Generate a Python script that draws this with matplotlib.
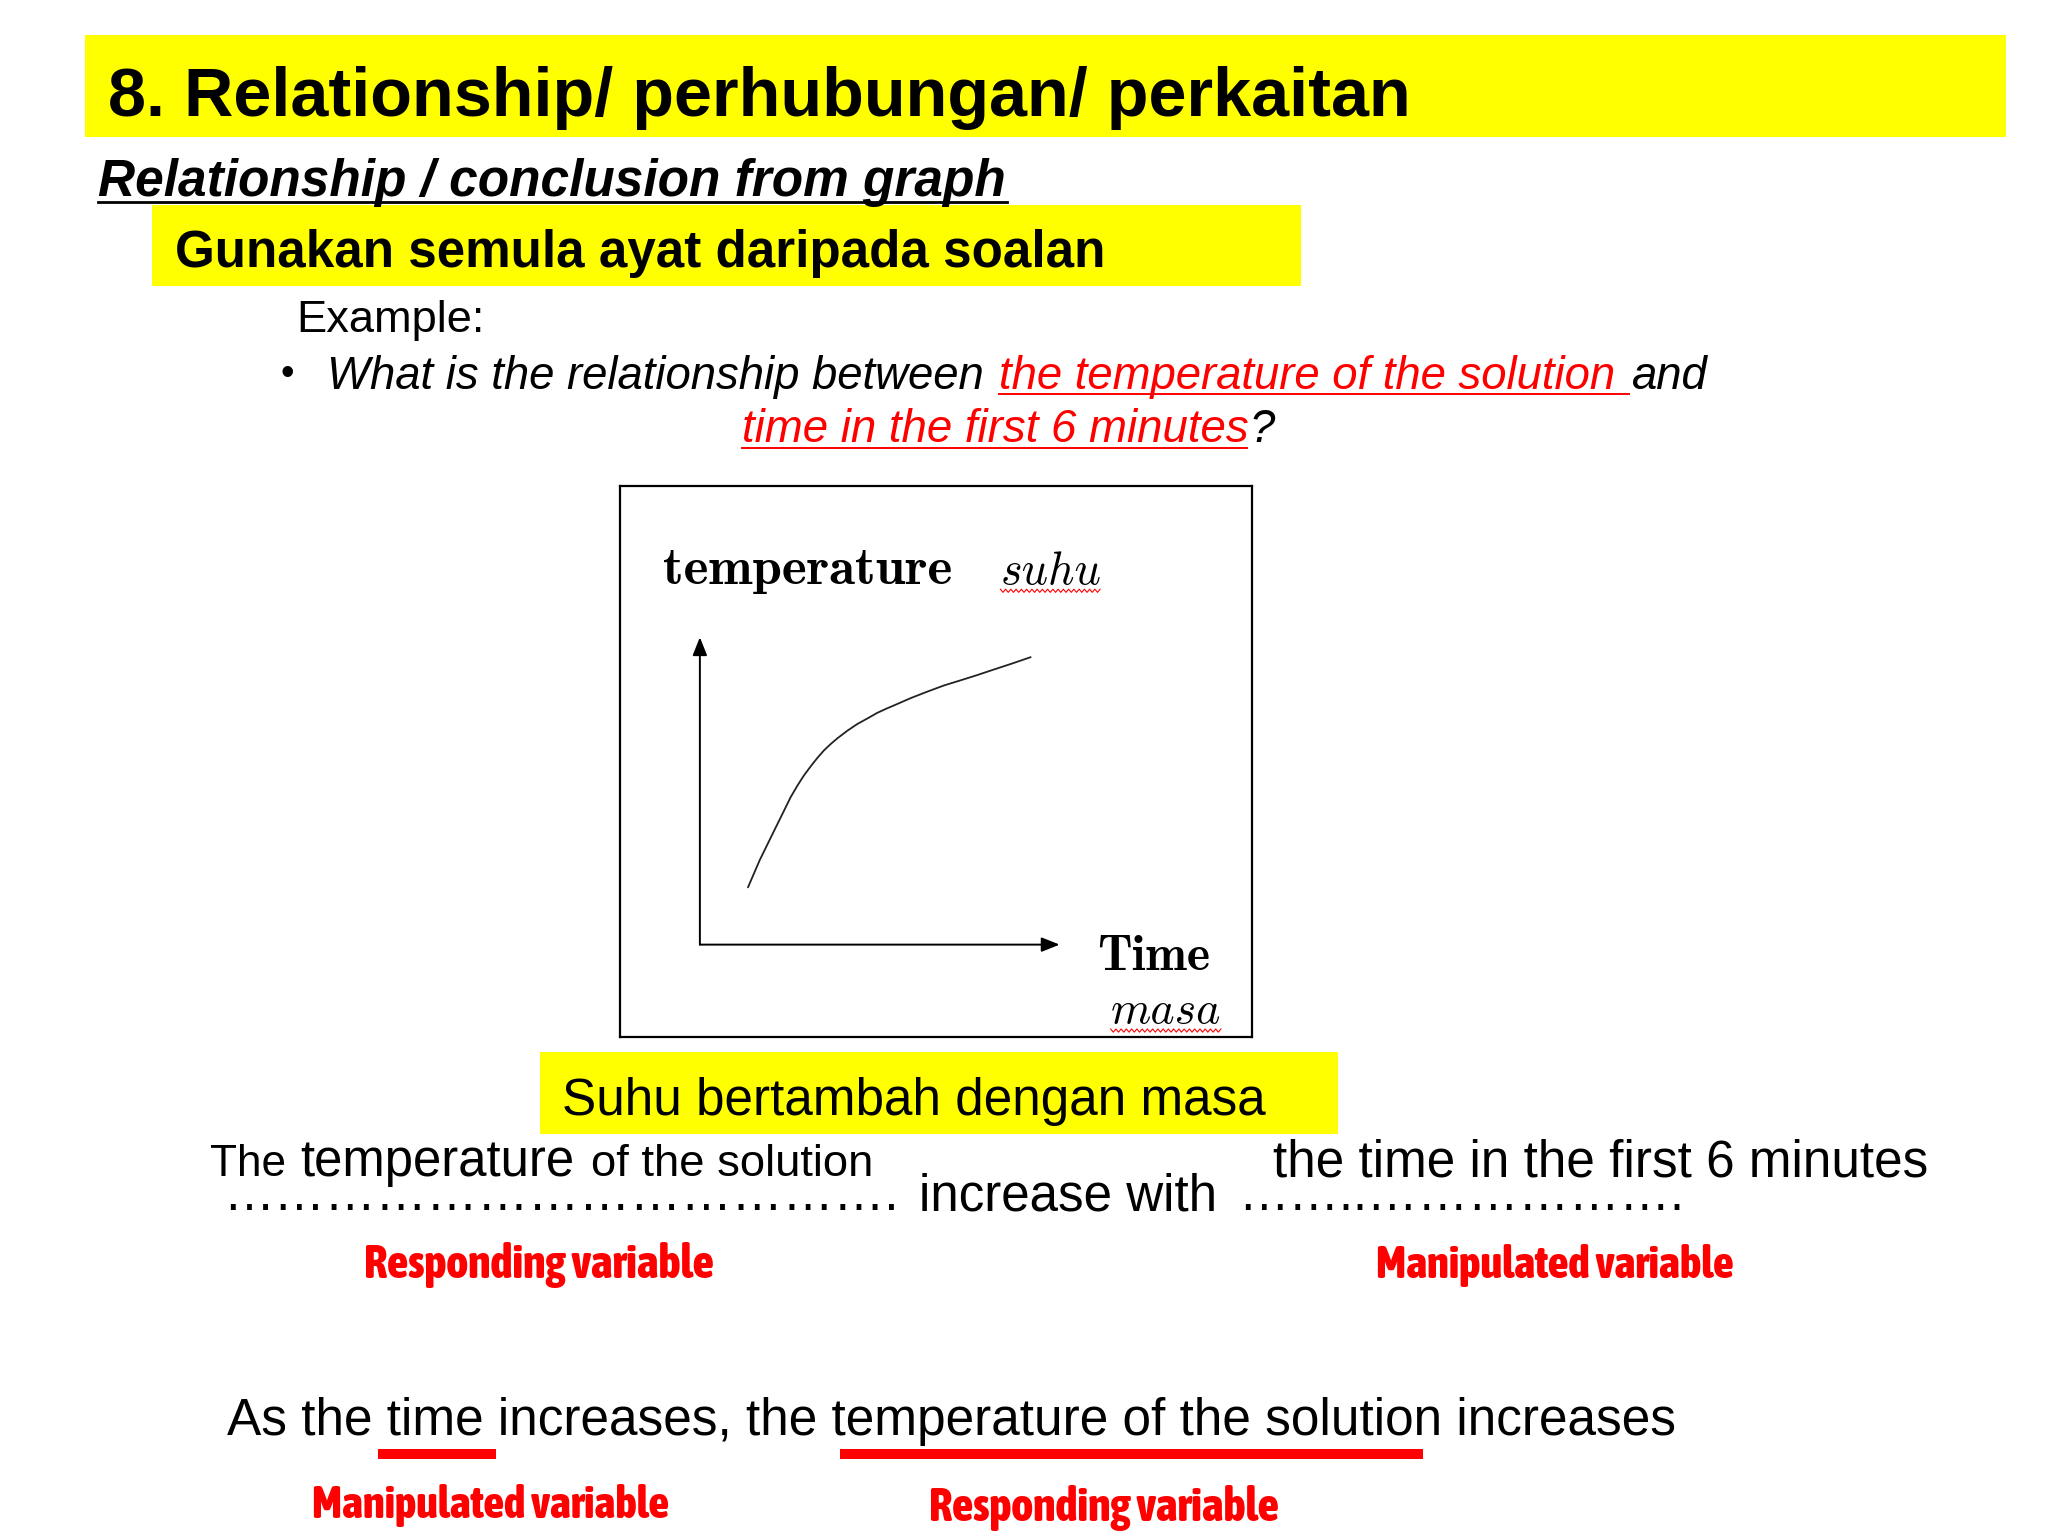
import numpy as np
import matplotlib
matplotlib.use("Agg")
import matplotlib.pyplot as plt
from matplotlib import font_manager
from matplotlib.font_manager import FontProperties
from matplotlib.patches import Rectangle

# slide layout is laid out in a 1560 x 1170 grid (scaled to 2048 x 1536 on save)
W, H = 1560, 1170

# sketch curve: temperature against time (axis units 0..10)
time = [1.34, 1.66, 2.02, 2.34, 2.52, 2.71, 2.89, 3.08, 3.27, 3.45, 3.64, 3.82, 4.10,
        4.38, 4.66, 4.93, 5.21, 5.49, 5.86, 6.32, 6.78, 7.25, 7.71, 8.17, 8.64, 9.19]
temperature = [1.87, 2.74, 3.60, 4.36, 4.79, 5.17, 5.50, 5.80, 6.08, 6.32, 6.53, 6.71,
               6.96, 7.18, 7.36, 7.54, 7.69, 7.83, 8.02, 8.23, 8.43, 8.60, 8.77, 8.95,
               9.13, 9.35]

title = "8. Relationship/ perhubungan/ perkaitan"
heading = "Relationship / conclusion from graph"
hint = "Gunakan semula ayat daripada soalan"
answer_ms = "Suhu bertambah dengan masa"
responding = "Responding variable"
manipulated = "Manipulated variable"

SANS = "Liberation Sans"
YELLOW = "#FFFF00"
RED = "#FF0000"


def pick_condensed():
    """Look for a heavy condensed face (the slide used an Impact-like font)"""
    best = None
    for f in font_manager.fontManager.ttflist:
        st = str(f.stretch).lower()
        nm = f.name.lower()
        cond = ("condensed" in st or "narrow" in nm or "condensed" in nm
                or (isinstance(f.stretch, (int, float)) and f.stretch < 500))
        if not cond or f.style != "normal":
            continue
        w = f.weight
        if isinstance(w, str):
            w = font_manager.weight_dict.get(w, 400)
        score = abs(w - 800)
        if best is None or score < best[0]:
            best = (score, f.fname)
    if best is None:
        return FontProperties(family=SANS, weight="bold")
    return FontProperties(fname=best[1])


LABEL_FP = pick_condensed()

fig = plt.figure(figsize=(20.48, 15.36), dpi=100)
fig.patch.set_facecolor("white")
bg = fig.add_axes([0, 0, 1, 1])
bg.set_xlim(0, W)
bg.set_ylim(H, 0)
bg.axis("off")
renderer = fig.canvas.get_renderer()
PX = fig.bbox.width / W  # device pixels per layout unit


def put(x0, y, s, x1=None, size=30, **kw):
    """Place text at baseline y; if x1 is given, scale font so it spans x0..x1"""
    if "fontproperties" in kw:
        fp = kw.pop("fontproperties").copy()
        fp.set_size(size)
        kw["fontproperties"] = fp
    else:
        kw.setdefault("family", SANS)
        kw["fontsize"] = size
    t = bg.text(x0, y, s, ha="left", va="baseline", **kw)
    if x1 is not None:
        bb = t.get_window_extent(renderer)
        t.set_fontsize(size * (x1 - x0) * PX / bb.width)
    return t


def label(x0, x1, yc, s):
    """Red variable label, width fitted, caps centred on yc"""
    t = put(x0, yc, s, x1=x1, size=30, fontproperties=LABEL_FP, color=RED)
    em = t.get_fontsize() * fig.dpi / 72 / PX
    t.set_y(yc + 0.36 * em)
    return t


def box(x0, y0, x1, y1, color):
    bg.add_patch(Rectangle((x0, y0), x1 - x0, y1 - y0, facecolor=color,
                           edgecolor="none", zorder=0))


def wavy(x0, x1, y):
    xs = np.arange(x0, x1 + 0.1, 2.0)
    ys = y + np.where(np.arange(len(xs)) % 2 == 0, -1.2, 1.2)
    bg.plot(xs, ys, color=RED, lw=0.8)


# header blocks
box(65, 27, 1528, 104, YELLOW)
put(82, 88, title, x1=1075, size=49, weight="bold")

put(75, 149, heading, x1=767, size=37, weight="bold", style="italic")
bg.plot([75, 767], [154, 154], color="black", lw=2)

box(116, 156, 991, 218, YELLOW)
put(133, 203, hint, x1=842, size=37, weight="bold")

put(226, 253, "Example:", x1=370, size=33)

# question
put(214, 293, "\u2022", size=28)
q = put(249, 296, "What is the relationship between", x1=751, size=33, style="italic")
qs = q.get_fontsize()
put(761, 296, "the temperature of the solution", size=qs, style="italic", color=RED)
bg.plot([761, 1241], [300, 300], color=RED, lw=1.4)
put(1243, 296, "and", size=qs, style="italic")
put(565, 337, "time in the first 6 minutes", x1=950, size=qs, style="italic", color=RED)
bg.plot([565, 950], [341, 341], color=RED, lw=1.4)
put(952, 337, "?", size=qs, style="italic")

# sketch graph
gx = fig.add_axes([472 / W, 1 - 790 / H, 482 / W, 420 / H])
gx.set_xlim(-2.23, 15.36)
gx.set_ylim(-3.01, 14.93)
gx.set_facecolor("none")
gx.set_xticks([])
gx.set_yticks([])
for sp in gx.spines.values():
    sp.set_linewidth(1.6)
    sp.set_color("black")
arrow = dict(arrowstyle="-|>,head_length=0.55,head_width=0.22", lw=1.4,
             color="black", shrinkA=0, shrinkB=0, mutation_scale=20)
gx.annotate("", xy=(0, 10), xytext=(0, 0), arrowprops=arrow)
gx.annotate("", xy=(10, 0), xytext=(0, 0), arrowprops=arrow)
gx.plot(time, temperature, color="#222222", lw=1.3, solid_joinstyle="round")

put(505, 445, "temperature", x1=726, size=34, family="cmb10")
put(762, 445, "suhu", x1=839, size=34, family="cmmi10")
wavy(762, 839, 450)
put(836, 739, "Time", x1=922, size=34, family="cmb10")
put(846, 779, "masa", x1=930, size=34, family="cmmi10")
wavy(846, 930, 785)

# first answer
box(411, 801, 1019, 864, YELLOW)
put(428, 849, answer_ms, x1=963, size=37)

put(160, 896, "The", x1=218, size=33)
put(229, 896, "temperature", x1=438, size=37)
put(450, 896, "of the solution", x1=665, size=33)
put(970, 896, "the time in the first 6 minutes", x1=1468, size=37)
put(170, 922, "\u2026" * 13 + ".", x1=686, size=37)
put(700, 922, "increase with", x1=927, size=37)
put(943, 922, "\u2026\u2026..\u2026\u2026\u2026\u2026\u2026\u2026.", x1=1283, size=37)

label(277, 544, 961, responding)
label(1048, 1321, 961, manipulated)

# second answer
put(173, 1093, "As the time increases, the temperature of the solution increases",
    x1=1276, size=37)
box(288, 1104, 378, 1111, RED)
box(640, 1104, 1084, 1111, RED)
label(238, 510, 1144, manipulated)
label(708, 975, 1146, responding)

fig.savefig("out.png", dpi=100, facecolor="white")
